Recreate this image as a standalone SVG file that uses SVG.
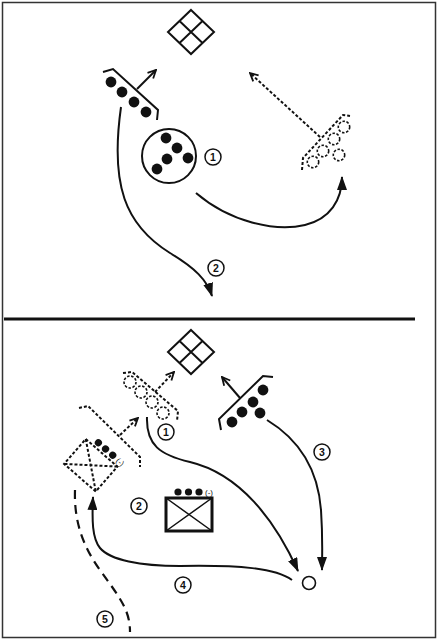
<svg xmlns="http://www.w3.org/2000/svg" width="438" height="640" viewBox="0 0 438 640">
<style>
.ln{fill:none;stroke:#111;stroke-width:2}
.dl{fill:none;stroke:#111;stroke-width:2;stroke-dasharray:3 2}
.dc{fill:none;stroke:#111;stroke-width:1.6;stroke-dasharray:2.5 1.6}
.dot{fill:#111}
.num circle{fill:none;stroke:#111;stroke-width:1.5}
.num text{font-family:"Liberation Sans",Arial,sans-serif;font-size:10.5px;font-weight:bold;fill:#111;text-anchor:middle}
.obj{fill:none;stroke:#111;stroke-width:2}
</style>
<defs>
<marker id="fa" viewBox="0 0 14 10" refX="13" refY="5" markerWidth="14" markerHeight="10" markerUnits="userSpaceOnUse" orient="auto">
<path d="M0,0 L14,5 L0,10 z" fill="#111"/>
</marker>
<marker id="oa" viewBox="0 0 10 10" refX="9" refY="5" markerWidth="10" markerHeight="10" markerUnits="userSpaceOnUse" orient="auto">
<path d="M1,1 L9,5 L1,9" fill="none" stroke="#111" stroke-width="1.8"/>
</marker>
</defs>
<rect x="2.5" y="2.5" width="433" height="635" fill="#fff" stroke="#333" stroke-width="1.5"/>
<line x1="4" y1="319" x2="415" y2="319" stroke="#111" stroke-width="3"/>

<g id="objective-top">
<path class="obj" d="M191,10 L214,32 L191,54 L168,32 z M179.5,21 L202.5,43 M202.5,21 L179.5,43"/>
</g>
<g id="unit-top-left">
<path class="ln" d="M103,72 L113,69 L158,110 L157,120"/>
<circle class="dot" cx="111" cy="82" r="5.4"/>
<circle class="dot" cx="122" cy="92" r="5.4"/>
<circle class="dot" cx="134" cy="102" r="5.4"/>
<circle class="dot" cx="146" cy="112" r="5.4"/>
<line class="ln" x1="137" y1="89" x2="156" y2="70" marker-end="url(#oa)"/>
</g>
<g id="unit-circle">
<circle cx="169" cy="156" r="27" fill="none" stroke="#111" stroke-width="2"/>
<circle class="dot" cx="166" cy="138" r="5.4"/>
<circle class="dot" cx="177" cy="148" r="5.4"/>
<circle class="dot" cx="167" cy="159" r="5.4"/>
<circle class="dot" cx="188" cy="158" r="5.4"/>
<circle class="dot" cx="157" cy="169" r="5.4"/>
</g>
<g id="unit-top-right">
<path class="dl" d="M302,170 L303,158 L343,115 L350,116"/>
<circle class="dc" cx="344" cy="127" r="5.7"/>
<circle class="dc" cx="334" cy="139" r="5.7"/>
<circle class="dc" cx="323" cy="151" r="5.7"/>
<circle class="dc" cx="313" cy="162" r="5.7"/>
<circle class="dc" cx="339" cy="155" r="5.7"/>
<line class="dl" x1="320" y1="137" x2="250" y2="73" marker-end="url(#oa)"/>
</g>

<g id="objective-bottom">
<path class="obj" d="M191,330 L214,352 L191,374 L168,352 z M179.5,341 L202.5,363 M202.5,341 L179.5,363"/>
</g>
<g id="unit-bottom-1">
<path class="dl" d="M123,373 L132,372 L178,411 L177,421"/>
<circle class="dc" cx="130" cy="382" r="6"/>
<circle class="dc" cx="141" cy="392" r="6"/>
<circle class="dc" cx="152" cy="402" r="6"/>
<circle class="dc" cx="163" cy="413" r="6"/>
<line class="dl" x1="155" y1="392" x2="174" y2="372" marker-end="url(#oa)"/>
</g>
<g id="unit-bottom-3">
<path class="ln" d="M221,430 L219,419 L263,376 L273,377"/>
<circle class="dot" cx="263" cy="390" r="5.4"/>
<circle class="dot" cx="253" cy="402" r="5.4"/>
<circle class="dot" cx="242" cy="412" r="5.4"/>
<circle class="dot" cx="232" cy="422" r="5.4"/>
<circle class="dot" cx="260" cy="413" r="5.4"/>
<line class="ln" x1="240" y1="398" x2="222" y2="377" marker-end="url(#oa)"/>
</g>
<g id="unit-bottom-dashed-box">
<path class="dl" d="M79,408 L88,406 L140,457 L140,467"/>
<line class="dl" x1="120" y1="435" x2="138" y2="418" marker-end="url(#oa)"/>
<g transform="translate(90.75 465.25) rotate(41)">
<rect class="dl" x="-21" y="-16.5" width="42" height="33"/>
<path class="dl" d="M-21,-16.5 L21,16.5 M21,-16.5 L-21,16.5"/>
<circle class="dot" cx="-9" cy="-22" r="3.6"/>
<circle class="dot" cx="0.5" cy="-22" r="3.6"/>
<circle class="dot" cx="10" cy="-22" r="3.6"/>
<text x="20" y="-19" font-family="Liberation Sans, Arial, sans-serif" font-size="8" fill="#111" text-anchor="middle">(-)</text>
</g>
</g>
<g id="unit-bottom-box">
<rect x="166" y="498" width="46" height="33" fill="none" stroke="#111" stroke-width="3"/>
<path d="M166,498 L212,531 M212,498 L166,531" stroke="#111" stroke-width="1.5"/>
<circle class="dot" cx="178" cy="492" r="3.6"/>
<circle class="dot" cx="188.5" cy="492" r="3.6"/>
<circle class="dot" cx="199" cy="492" r="3.6"/>
<text x="209" y="494.5" font-family="Liberation Sans, Arial, sans-serif" font-size="8" fill="#111" text-anchor="middle">(-)</text>
</g>
<g id="target">
<circle cx="309" cy="583" r="6.5" fill="none" stroke="#111" stroke-width="1.6"/>
</g>

<g id="connectors">
<path class="ln" d="M121,107 C110,185 125,225 170,253 C195,268 207,280 212,296" marker-end="url(#fa)"/>
<path class="ln" d="M196,193 C230,222 275,232 305,225 C330,219 342,200 342,177" marker-end="url(#fa)"/>
<path class="ln" d="M147,417 C146,445 160,455 190,462 C240,474 275,520 298,571" marker-end="url(#fa)"/>
<path class="ln" d="M267,420 C300,440 318,470 321,510 C323,540 322,555 322,570" marker-end="url(#fa)"/>
<path class="ln" d="M292,580 C275,568 240,565 180,566 C140,566 110,560 100,548 C92,538 92,520 93,497" marker-end="url(#fa)"/>
<path d="M75,490 C74,520 82,545 100,570 C120,598 130,610 130,632" fill="none" stroke="#111" stroke-width="2.2" stroke-dasharray="9 6"/>
</g>

<g id="labels">
<g class="num"><circle cx="213" cy="157" r="8"/><text x="213" y="160.8">1</text></g>
<g class="num"><circle cx="216" cy="268" r="8"/><text x="216" y="271.8">2</text></g>
<g class="num"><circle cx="166" cy="432" r="8"/><text x="166" y="435.8">1</text></g>
<g class="num"><circle cx="139" cy="506" r="8"/><text x="139" y="509.8">2</text></g>
<g class="num"><circle cx="322" cy="452" r="8"/><text x="322" y="455.8">3</text></g>
<g class="num"><circle cx="183" cy="585" r="8"/><text x="183" y="588.8">4</text></g>
<g class="num"><circle cx="105" cy="619" r="8"/><text x="105" y="622.8">5</text></g>
</g>
</svg>
